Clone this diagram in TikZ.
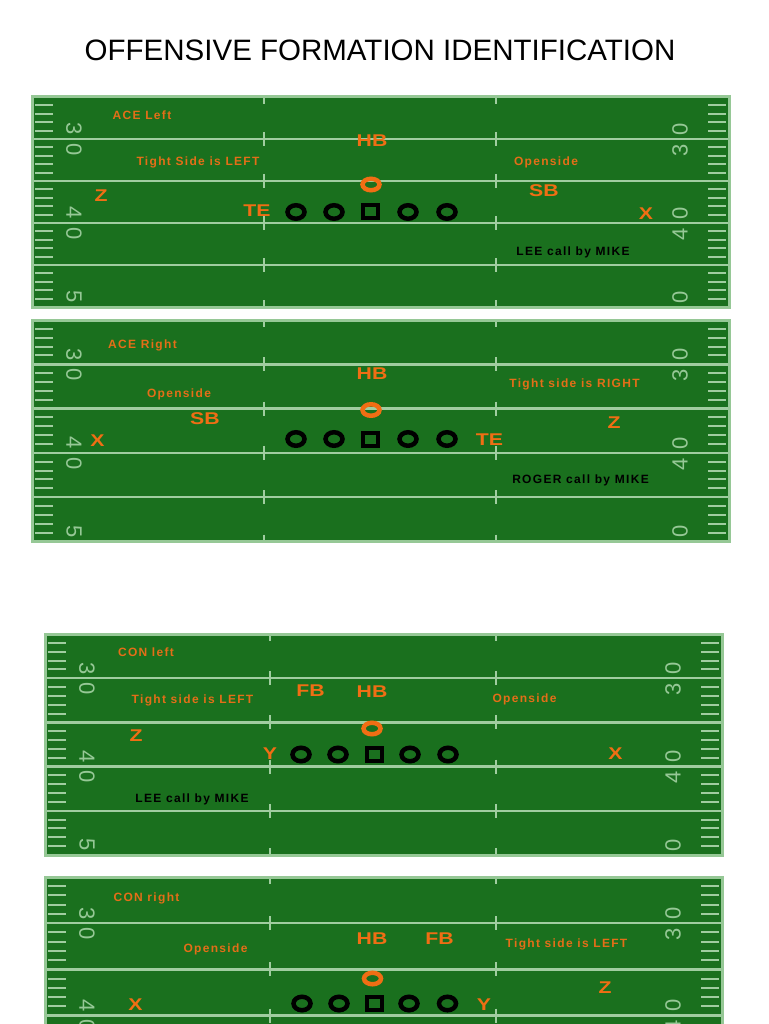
\documentclass[tikz,border=0pt]{standalone}
\usepackage{fontspec}
\setmainfont{Liberation Sans}
\newfontfamily\tagfont{Liberation Sans}[LetterSpace=11]
\newfontfamily\posfont{Liberation Sans}[FakeStretch=1.25]
\usetikzlibrary{shapes.geometric}

\definecolor{fieldgreen}{RGB}{26,112,30}
\definecolor{linegreen}{RGB}{160,205,160}
\definecolor{edgegreen}{RGB}{150,200,150}
\definecolor{tagorange}{RGB}{228,110,24}
\definecolor{posorange}{RGB}{240,110,20}

\tikzset{
  yardline/.style={draw=linegreen, line width=2.5pt},
  tick/.style={draw=linegreen, line width=2pt},
  fieldedge/.style={draw=edgegreen, line width=3pt},
  yardnum/.style={text=edgegreen, font=\fontsize{22}{22}\selectfont, inner sep=0pt},
  tag/.style={text=tagorange, font=\tagfont\bfseries\fontsize{12}{12}\selectfont, inner sep=0pt, text depth=0pt},
  call/.style={text=black, font=\tagfont\bfseries\fontsize{12}{12}\selectfont, inner sep=0pt, text depth=0pt},
  poslabel/.style={text=posorange, font=\posfont\bfseries\fontsize{17}{17}\selectfont, inner sep=0pt, text depth=0pt},
  lineman/.style={ellipse, draw=black, line width=4.5pt, minimum width=17pt, minimum height=13.5pt, inner sep=0pt},
  snapper/.style={rectangle, draw=black, line width=4pt, minimum width=15pt, minimum height=13pt, inner sep=0pt},
  back/.style={ellipse, draw=posorange, line width=4.5pt, minimum width=17pt, minimum height=11.5pt, inner sep=0pt}
}

\begin{document}
\begin{tikzpicture}[x=1pt,y=-1pt]
\useasboundingbox (0,0) rectangle (768,1024);
\clip (0,0) rectangle (768,1024);
\fill[white] (0,0) rectangle (768,1024);

\node[font=\fontsize{29.5}{29.5}\selectfont] (title) at (380,50) {OFFENSIVE FORMATION IDENTIFICATION};

% the four fields
\foreach \xa/\ya/\xb/\ys/\xh [count=\i] in {32/97/729/42/264, 32/320/729/44.3/264, 45/634/722/44.2/270, 45/877/722/46.2/270}
{
	\begin{scope}
	\clip (\xa,\ya) rectangle (\xb,\ya+5*\ys);
	\fill[fieldgreen] (\xa,\ya) rectangle (\xb,\ya+5*\ys);
	\foreach \k in {1,...,4}
	{
		\draw[yardline] (\xa,\ya+\k*\ys) -- (\xb,\ya+\k*\ys);
	}
	\foreach \k in {0,...,4}
	\foreach \j in {1,...,4}
	{
		\draw[tick] (\xa+3,\ya+\k*\ys+\j*\ys/5) -- (\xa+21,\ya+\k*\ys+\j*\ys/5);
		\draw[tick] (\xb-21,\ya+\k*\ys+\j*\ys/5) -- (\xb-3,\ya+\k*\ys+\j*\ys/5);
	}
	\foreach \k in {0,...,5}
	\foreach \hx in {\xh,496}
	{
		\draw[tick] (\hx,\ya+\k*\ys-7) -- (\hx,\ya+\k*\ys+7);
	}
	\foreach \k/\dg in {1/3,3/4}
	{
		\node[yardnum, rotate=-90] (num\i-l\k a) at (\xa+42,\ya+\k*\ys-10) {\dg};
		\node[yardnum, rotate=-90] (num\i-l\k b) at (\xa+42,\ya+\k*\ys+10.5) {0};
		\node[yardnum, rotate=90] (num\i-r\k a) at (\xb-49,\ya+\k*\ys-10) {0};
		\node[yardnum, rotate=90] (num\i-r\k b) at (\xb-49,\ya+\k*\ys+11) {\dg};
	}
	\node[yardnum, rotate=-90] (num\i-l5) at (\xa+42,\ya+5*\ys-10) {5};
	\node[yardnum, rotate=90] (num\i-r5) at (\xb-49,\ya+5*\ys-10) {0};
	\end{scope}
	\draw[fieldedge] (\xa,\ya) rectangle (\xb,\ya+5*\ys);
}

% ACE Left
\node[tag] (al-name) at (142,115) {ACE Left};
\node[tag] (al-tight) at (198,161) {Tight Side is LEFT};
\node[tag] (al-open) at (546,161) {Openside};
\node[call] (al-call) at (573,251) {LEE call by MIKE};
\node[poslabel] (al-hblab) at (372,141) {HB};
\node[back] (al-hb) at (371,184.5) {};
\node[poslabel] (al-z) at (101,196) {Z};
\node[poslabel] (al-sb) at (544,191) {SB};
\node[poslabel] (al-te) at (257,211) {TE};
\node[poslabel] (al-x) at (646,214) {X};
\foreach \n/\x in {lt/296,lg/334,rg/408,rt/447}
{
	\node[lineman] (al-\n) at (\x,212) {};
}
\node[snapper] (al-c) at (370,212) {};

% ACE Right
\node[tag] (ar-name) at (142.5,344.5) {ACE Right};
\node[tag] (ar-open) at (179,393.5) {Openside};
\node[tag] (ar-tight) at (574.5,383) {Tight side is RIGHT};
\node[call] (ar-call) at (580.5,479.5) {ROGER call by MIKE};
\node[poslabel] (ar-hblab) at (372,374) {HB};
\node[back] (ar-hb) at (371,410) {};
\node[poslabel] (ar-sb) at (205,418.5) {SB};
\node[poslabel] (ar-z) at (614,423) {Z};
\node[poslabel] (ar-x) at (97.5,441) {X};
\node[poslabel] (ar-te) at (489.5,439.5) {TE};
\foreach \n/\x in {lt/296,lg/334,rg/408,rt/447}
{
	\node[lineman] (ar-\n) at (\x,439) {};
}
\node[snapper] (ar-c) at (370,439) {};

% CON left
\node[tag] (cl-name) at (146,652.5) {CON left};
\node[tag] (cl-tight) at (192.5,699.5) {Tight side is LEFT};
\node[tag] (cl-open) at (524.5,698) {Openside};
\node[call] (cl-call) at (192,798) {LEE call by MIKE};
\node[poslabel] (cl-fb) at (310.5,690.5) {FB};
\node[poslabel] (cl-hblab) at (372,691.5) {HB};
\node[back] (cl-hb) at (372,728.5) {};
\node[poslabel] (cl-z) at (136,736) {Z};
\node[poslabel] (cl-y) at (270,754) {Y};
\node[poslabel] (cl-x) at (615.5,753.5) {X};
\foreach \n/\x in {lt/301,lg/338,rg/410,rt/448}
{
	\node[lineman] (cl-\n) at (\x,754.5) {};
}
\node[snapper] (cl-c) at (374,754.5) {};

% CON right
\node[tag] (cr-name) at (146.5,897) {CON right};
\node[tag] (cr-open) at (215.5,948.5) {Openside};
\node[tag] (cr-tight) at (566.5,943.5) {Tight side is LEFT};
\node[poslabel] (cr-hblab) at (372,939) {HB};
\node[poslabel] (cr-fb) at (439.5,939) {FB};
\node[back] (cr-hb) at (372.5,978.5) {};
\node[poslabel] (cr-z) at (605,987.5) {Z};
\node[poslabel] (cr-x) at (135.5,1004.5) {X};
\node[poslabel] (cr-y) at (484,1004.5) {Y};
\foreach \n/\x in {lt/302,lg/339,rg/409,rt/447.5}
{
	\node[lineman] (cr-\n) at (\x,1003.5) {};
}
\node[snapper] (cr-c) at (374,1003.5) {};
\end{tikzpicture}
\end{document}
